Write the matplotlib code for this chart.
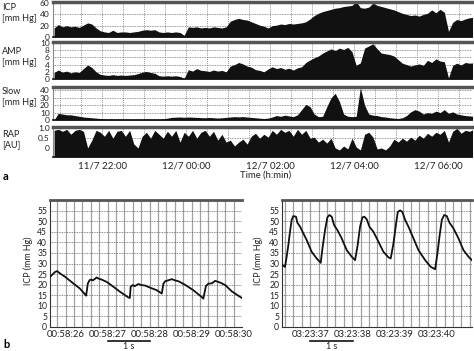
import numpy as np
import matplotlib
matplotlib.use('Agg')
import matplotlib.pyplot as plt
from matplotlib.transforms import blended_transform_factory

plt.rcParams['font.family'] = ['Lato', 'DejaVu Sans']

# ---------------- data: panel a (trend, hours relative to 12/7 00:00) -------------
trend_start_h = -3.15
trend_step_h = 0.1
icp = [16, 22, 18, 20, 18, 19, 17, 21, 25, 23,
       16, 11, 9, 8, 12, 8, 9, 9, 8, 9,
       10, 12, 13, 12, 13, 9, 8, 9, 8, 9,
       8, 3, 18, 17, 18, 16, 17, 16, 18, 17,
       16, 18, 28, 31, 33, 31, 30, 27, 24, 21,
       19, 16, 20, 21, 23, 22, 24, 23, 24, 25,
       27, 32, 38, 42, 45, 47, 49, 51, 52, 54,
       55, 56, 63, 52, 51, 53, 60, 56, 54, 52,
       50, 48, 45, 42, 40, 38, 39, 37, 40, 42,
       48, 43, 49, 44, 10, 26, 31, 29, 32, 34, 35]
amp = [1.8, 2.5, 1.9, 2.2, 1.7, 2.0, 1.8, 2.9, 3.9, 3.2,
       2.0, 1.3, 1.1, 1.0, 1.2, 1.0, 1.1, 1.0, 1.1, 1.2,
       1.5, 1.9, 2.1, 1.8, 1.6, 0.9, 0.8, 0.9, 0.8, 0.9,
       0.7, 0.2, 2.6, 2.2, 2.9, 2.4, 2.3, 2.1, 2.5, 2.2,
       2.4, 2.0, 3.6, 4.0, 4.6, 4.2, 3.6, 3.3, 2.6, 2.4,
       2.0, 2.8, 3.4, 2.9, 3.2, 2.7, 3.0, 2.5, 3.1, 3.4,
       4.6, 5.3, 5.9, 6.4, 7.2, 7.8, 8.4, 7.9, 8.6, 8.2,
       8.8, 7.6, 3.8, 4.5, 8.6, 9.2, 9.8, 8.4, 7.2, 7.0,
       6.8, 6.4, 5.4, 4.4, 4.0, 3.6, 3.9, 4.2, 3.8, 5.2,
       4.6, 5.6, 5.0, 4.8, 0.3, 3.8, 4.4, 3.9, 4.6, 4.4, 4.5]
slow = [0, 9, 8, 7, 7, 6, 5, 4, 3.5, 3,
        2.5, 2, 1.5, 1.3, 1.2, 1.2, 1.0, 1.2, 1.0, 1.1,
        1.2, 1.0, 1.3, 1.0, 1.2, 1.1, 1.5, 2.5, 3.5, 3.8,
        4.0, 3.6, 4.0, 3.8, 3.5, 3.2, 3.0, 3.4, 3.0, 2.6,
        3.0, 3.5, 4.0, 4.5, 4.2, 4.6, 4.0, 3.5, 3.0, 2.4,
        2.0, 2.5, 4.0, 6.0, 5.0, 6.5, 5.5, 4.5, 7.0, 14,
        21, 18, 8, 4.5, 5, 18, 30, 36, 25, 8,
        5, 4.5, 5, 44, 20, 8, 6.5, 6, 4.5, 4,
        3, 2.5, 2, 3, 6, 11, 14, 12, 8, 10,
        9, 12, 10, 14, 9, 11, 8, 7, 6, 5.5, 5]
rap = [0.9, 0.95, 0.85, 0.95, 0.7, 0.9, 0.95, 0.85, 0.0, 0.4,
       0.9, 0.8, 0.6, 0.9, 0.5, 0.85, 0.9, 0.6, 0.9, 0.2,
       0.0, 0.6, 0.8, 0.5, 0.9, 0.7, 0.5, 0.85, 0.6, 0.9,
       0.3, 0.8, 0.6, 0.9, 0.5, 0.8, 0.9, 0.6, 0.85, 0.4,
       0.7, 0.3, 0.4, 0.1, 0.3, 0.45, 0.2, 0.6, 0.75, 0.5,
       0.7, 0.55, 0.9, 0.7, 0.95, 0.8, 0.9, 0.6, 0.95, 0.7,
       0.9, 0.5, 0.55, 0.3, 0.45, 0.25, 0.5, 0.0, -0.1, 0.1,
       -0.05, 0.5, 0.05, -0.1, 0.7, 0.8, 0.55, -0.05, 0.0, -0.1,
       0.1, 0.45, 0.3, 0.5, 0.35, 0.55, 0.4, 0.65, 0.5, 0.75,
       0.6, 0.8, 0.7, 0.9, 0.3, 0.85, 1.0, 0.75, 0.9, 0.85, 0.95]
trend_ticks_h = [-2, 0, 2, 4, 6]
trend_tick_labels = ['11/7 22:00', '12/7 00:00', '12/7 02:00', '12/7 04:00', '12/7 06:00']

# ---------------- data: panel b (seconds) ----------------
b1_t = [0.0, 0.12, 0.17, 0.24, 0.36, 0.56, 0.71, 0.83, 0.86, 0.90, 0.94, 0.98, 1.02,
        1.11, 1.15, 1.23, 1.35, 1.51, 1.67, 1.87, 1.90, 1.92, 1.97, 2.02, 2.10, 2.18,
        2.26, 2.38, 2.54, 2.66, 2.70, 2.74, 2.82, 2.90, 2.98, 3.06, 3.21, 3.41, 3.61,
        3.65, 3.71, 3.77, 3.85, 3.93, 4.05, 4.17, 4.33, 4.48, 4.60]
b1_icp = [23.7, 26.0, 26.4, 25.3, 23.7, 20.5, 18.2, 15.5, 14.8, 20.5, 22.1, 22.4, 22.0,
          23.4, 22.9, 22.4, 21.3, 19.0, 16.6, 13.9, 13.7, 19.0, 19.8, 19.3, 20.3, 19.8,
          19.6, 18.6, 17.4, 15.8, 20.5, 21.6, 22.1, 22.6, 22.0, 21.6, 20.0, 17.4, 14.2,
          13.4, 19.3, 20.5, 20.6, 21.8, 21.0, 19.8, 16.8, 14.8, 13.3]
b1_ticks = [0.37, 1.37, 2.37, 3.37, 4.37]
b1_labels = ['00:58:26', '00:58:27', '00:58:28', '00:58:29', '00:58:30']

b2_t = [0.016, 0.071, 0.111, 0.151, 0.19, 0.23, 0.27, 0.333, 0.365, 0.43, 0.508, 0.587,
        0.706, 0.825, 0.92, 0.968, 1.024, 1.079, 1.127, 1.183, 1.238, 1.317, 1.42, 1.54,
        1.659, 1.738, 1.794, 1.857, 1.913, 1.96, 2.016, 2.079, 2.175, 2.294, 2.413, 2.532,
        2.587, 2.651, 2.714, 2.754, 2.81, 2.865, 2.929, 3.008, 3.127, 3.246, 3.405, 3.54,
        3.643, 3.698, 3.746, 3.802, 3.857, 3.921, 3.984, 4.079, 4.198, 4.317, 4.437, 4.556]
b2_icp = [29.2, 28.4, 33.2, 38.7, 45.0, 50.6, 52.4, 52.1, 49.3, 47.4, 44.2, 41.1,
          35.5, 32.4, 30.3, 37.9, 45.8, 51.8, 52.9, 52.1, 48.2, 45.8, 41.9, 36.3,
          33.2, 31.6, 37.9, 47.4, 51.8, 52.1, 50.9, 47.4, 45.0, 40.3, 35.5, 32.9,
          32.4, 39.5, 48.8, 54.3, 55.1, 54.3, 50.6, 47.4, 41.9, 36.3, 31.6, 28.4,
          27.3, 34.8, 42.7, 50.6, 52.9, 52.4, 49.3, 46.6, 41.9, 36.3, 33.2, 30.8]
b2_ticks = [0.67, 1.67, 2.67, 3.67]
b2_labels = ['03:23:37', '03:23:38', '03:23:39', '03:23:40']

# ---------------- figure ----------------
W, H = 474, 351
fig = plt.figure(figsize=(W / 100, H / 100), dpi=100)


def ax_px(x0, y0, x1, y1):
    return fig.add_axes([x0 / W, 1 - y1 / H, (x1 - x0) / W, (y1 - y0) / H])


TXT = '#222222'
t_trend = trend_start_h + trend_step_h * np.arange(len(icp))
xlim_trend = (-3.176, 6.81)

panels = [
    (icp, (0, 62), [0, 20, 40, 60], ['0', '20', '40', '60'], (2, 37), 'ICP\n[mm Hg]', 0),
    (amp, (0, 10.3), [0, 2, 4, 6, 8, 10], ['0', '2', '4', '6', '8', '10'], (42, 79), 'AMP\n[mm Hg]', 0),
    (slow, (0, 44.5), [0, 10, 20, 30, 40], ['0', '10', '20', '30', '40'], (87, 120), 'Slow\n[mm Hg]', 0),
    (rap, (-0.46, 1.07), [0, 0.5, 1.0], ['0', '0.5', '1.0'], (127, 157), 'RAP\n[AU]', -0.46),
]
label_y = [13, 57, 97, 140]

for k, (vals, ylim, yt, ytl, (y0, y1), lab, base) in enumerate(panels):
    ax = ax_px(53, y0, 472, y1)
    ax.fill_between(t_trend, base, vals, color='#111111', lw=0)
    ax.set_xlim(*xlim_trend)
    ax.set_ylim(*ylim)
    ax.set_yticks(yt)
    ax.set_yticklabels(ytl, fontsize=6, color=TXT)
    ax.tick_params(axis='both', length=0, pad=2.5)
    for g in np.arange(-3.0, 7.0, 0.5):
        ax.axvline(g, color='#9a9a9a', lw=0.7, ls=(0, (1, 1)), zorder=0)
    for v in yt[1:]:
        ax.axhline(v, color='#777777', lw=0.6, ls=(0, (1, 1)), zorder=0)
    ax.spines['top'].set_linewidth(2.5)
    ax.spines['top'].set_color('#555555')
    ax.spines['left'].set_color('#888888')
    ax.spines['left'].set_linewidth(0.8)
    ax.spines['right'].set_visible(False)
    ax.spines['bottom'].set_color('#111111')
    ax.spines['bottom'].set_linewidth(1.2)
    if k == 3:
        ax.set_xticks(trend_ticks_h)
        ax.set_xticklabels(trend_tick_labels, fontsize=7, color=TXT)
        ax.tick_params(axis='x', pad=3)
    else:
        ax.set_xticks([])
    fig.text(2 / W, 1 - label_y[k] / H, lab, fontsize=6.6, va='center', ha='left',
             color=TXT, linespacing=1.15)

fig.text(266 / W, 1 - 175 / H, 'Time (h:min)', fontsize=6.8, ha='center', va='center', color=TXT)
fig.text(3 / W, 1 - 177 / H, 'a', fontsize=8, fontweight='bold', ha='left', va='center')
fig.text(3 / W, 1 - 345 / H, 'b', fontsize=8, fontweight='bold', ha='left', va='center')

# ---------------- panel b ----------------
bpanels = [
    (b1_t, b1_icp, b1_ticks, b1_labels, (50, 242), (0, 4.57), 0.17, (1.38, 2.38), 28),
    (b2_t, b2_icp, b2_ticks, b2_labels, (282, 472), (0, 4.52), 0.07, (0.67, 1.69), 258),
]
for (tt, vv, xt, xtl, (x0, x1), xl, g0, bar, ylab_x) in bpanels:
    ax = ax_px(x0, 200, x1, 327)
    ax.set_xlim(*xl)
    ax.set_ylim(0, 60)
    for g in np.arange(g0, xl[1], 0.2):
        ax.axvline(g, color='#a0a0a0', lw=0.9, zorder=0)
    for v in range(5, 60, 5):
        ax.axhline(v, color='#666666', lw=0.6, ls=(0, (1, 1)), zorder=1)
    ax.plot(tt, vv, color='#111111', lw=1.3, zorder=3)
    ax.set_yticks(range(0, 60, 5))
    ax.set_yticklabels([str(v) for v in range(0, 60, 5)], fontsize=6.2, color=TXT)
    ax.set_xticks(xt)
    ax.set_xticklabels(xtl, fontsize=6.8, color=TXT)
    ax.tick_params(axis='both', length=0, pad=2)
    ax.spines['top'].set_linewidth(2)
    ax.spines['top'].set_color('#555555')
    ax.spines['right'].set_visible(False)
    ax.spines['left'].set_color('#333333')
    ax.spines['left'].set_linewidth(0.8)
    ax.spines['bottom'].set_color('#333333')
    ax.spines['bottom'].set_linewidth(0.8)
    tr = blended_transform_factory(ax.transData, ax.transAxes)
    ax.plot(list(bar), [-0.11, -0.11], transform=tr, color='#111111', lw=1.2, clip_on=False)
    ax.text(sum(bar) / 2, -0.12, '1 s', transform=tr, fontsize=6.5, ha='center', va='top', color=TXT)
    fig.text(ylab_x / W, 1 - 261 / H, 'ICP (mm Hg)', rotation=90, fontsize=6.4, ha='center', va='center',
             color=TXT)

fig.savefig('out.png', dpi=100)
